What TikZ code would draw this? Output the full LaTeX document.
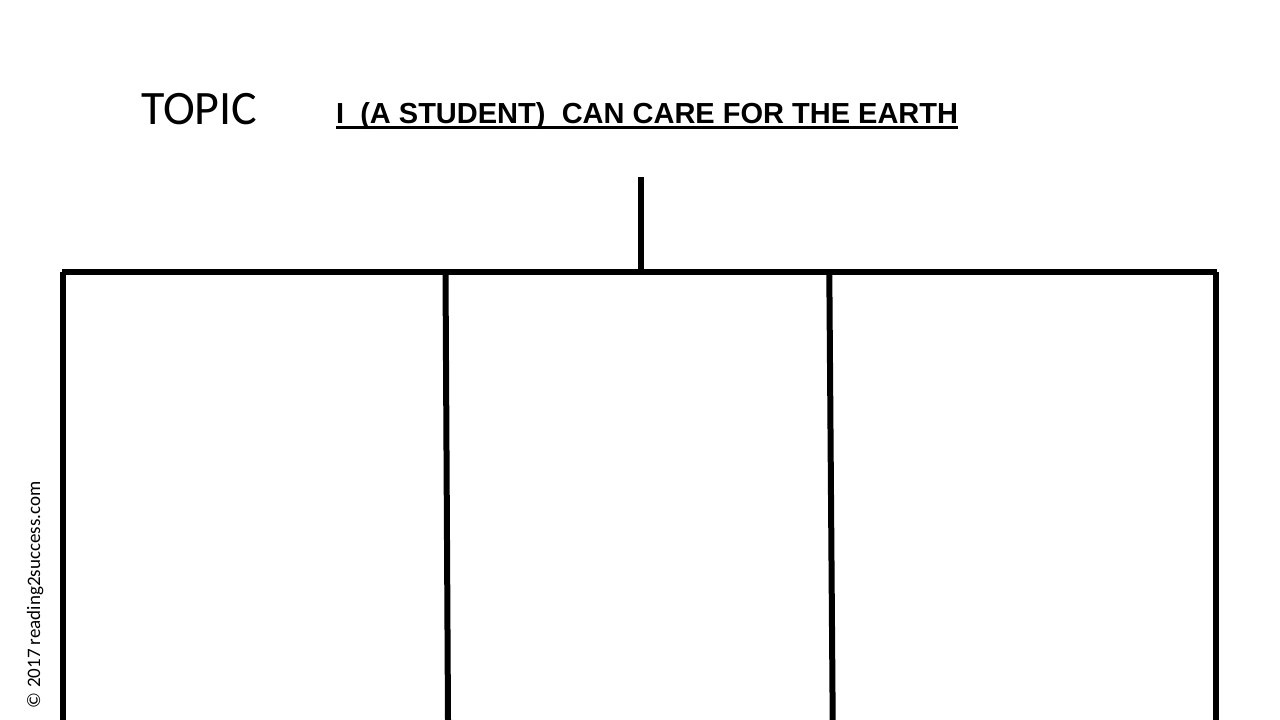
\documentclass[tikz,border=0pt]{standalone}
\usepackage{fontspec}
\setmainfont{Carlito}
\newfontfamily\titlefont{Liberation Sans}
\begin{document}
\begin{tikzpicture}[x=1pt,y=-1pt,
  bar/.style={line width=6pt,line cap=butt},
  lbl/.style={inner sep=0pt,outer sep=0pt}]
\useasboundingbox[fill=white] (0,0) rectangle (1280,720);
% texts
\node[lbl,anchor=base west,font=\fontsize{48}{48}\selectfont] (topic) at (141,124) {TOPIC};
\node[lbl,anchor=base west,font=\titlefont\bfseries\fontsize{29}{29}\selectfont] (title) at (336,123)
  {I\hspace{0.56em}(A STUDENT)\hspace{0.56em}CAN CARE FOR THE EARTH};
\draw[line width=2.5pt] ([yshift=-4.5pt]title.base west) -- ([yshift=-4.5pt]title.base east);
\node[lbl,anchor=base west,rotate=90,font=\fontsize{19}{19}\selectfont] (copy) at (40,708) {\char"00A9{} 2017 reading2success.com};
% tree
\coordinate (stemtop) at (641,177);
\coordinate (stembot) at (641,272);
\coordinate (hl) at (62,272);
\coordinate (hr) at (1217,272);
\coordinate (t1) at (63,272);   \coordinate (b1) at (63,720);
\coordinate (t2) at (445.5,272); \coordinate (b2) at (448,720);
\coordinate (t3) at (829.3,272); \coordinate (b3) at (832.7,720);
\coordinate (t4) at (1216,272);  \coordinate (b4) at (1216,720);
\draw[bar] (stemtop) -- (stembot);
\draw[bar] (hl) -- (hr);
\draw[bar] (t1) -- (b1);
\draw[bar] (t2) -- (b2);
\draw[bar] (t3) -- (b3);
\draw[bar] (t4) -- (b4);
\end{tikzpicture}
\end{document}
